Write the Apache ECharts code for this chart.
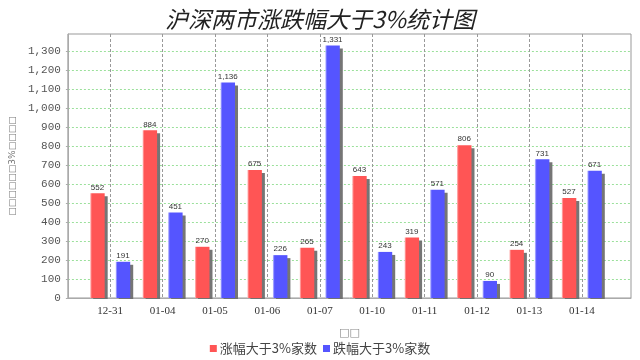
<!DOCTYPE html>
<html><head><meta charset="utf-8">
<script src="https://cdn.jsdelivr.net/npm/echarts@6/dist/echarts.min.js"></script>
<style>html,body{margin:0;padding:0;background:#fff}#c{width:640px;height:360px}</style>
</head><body><div id="c"></div>
<script>
const titleText = '沪深两市涨跌幅大于3%统计图';
const categories = ['12-31','01-04','01-05','01-06','01-07','01-10','01-11','01-12','01-13','01-14'];
const upName = '涨幅大于3%家数';
const downName = '跌幅大于3%家数';
const upValues = [552, 884, 270, 675, 265, 643, 319, 806, 254, 527];
const downValues = [191, 451, 1136, 226, 1331, 243, 571, 90, 731, 671];
const yMin = 0, yMax = 1392, yStep = 100;
const yAxisTitle = '□□□□□□3%□□□□';
const xAxisTitle = '□□';

const RED = '#ff5555', BLUE = '#5555ff';
function grad(light, base) {
  return new echarts.graphic.LinearGradient(0, 0, 1, 0, [
    {offset: 0, color: light}, {offset: 0.12, color: base}, {offset: 1, color: base}
  ]);
}
const fmt = v => Number(v).toLocaleString('en-US');

const chart = echarts.init(document.getElementById('c'), null, {renderer: 'canvas'});
const outer = {left: 62, right: 9, top: 34, bottom: 62};
const inner = {left: 84, right: 32, top: 34, bottom: 62};

function barSeries(name, values, color, light) {
  return {
    name: name, type: 'bar', xAxisIndex: 1, yAxisIndex: 1,
    data: values, barWidth: 14.5, barGap: '76%',
    itemStyle: {color: grad(light, color), shadowColor: 'rgba(110,110,110,0.95)', shadowOffsetX: 3, shadowOffsetY: 3, shadowBlur: 0},
    label: {show: true, position: 'top', distance: 2, fontSize: 8, color: '#333', fontFamily: 'Liberation Sans', formatter: p => fmt(p.value)},
    emphasis: {disabled: true}
  };
}

chart.setOption({
  animation: false,
  backgroundColor: '#fff',
  title: {text: titleText, left: 'center', top: 3,
    textStyle: {fontSize: 23, fontStyle: 'italic', fontWeight: 'normal', color: '#222', fontFamily: 'Noto Sans CJK SC'}},
  legend: {top: 337, left: 'center', itemWidth: 7, itemHeight: 7, itemGap: 6, icon: 'rect',
    textStyle: {fontSize: 13, color: '#444', fontFamily: 'Noto Sans CJK SC', padding: [0, 0, 0, -2]},
    data: [{name: upName, itemStyle: {color: RED}}, {name: downName, itemStyle: {color: BLUE}}]},
  grid: [
    Object.assign({show: true, borderColor: '#999', borderWidth: 1, backgroundColor: '#fff'}, outer),
    Object.assign({show: false}, inner)
  ],
  graphic: [{type: 'rect', left: 63, top: 299, shape: {width: 568, height: 2}, style: {fill: '#fff'}, z: 100, silent: true}],
  xAxis: [
    {type: 'value', gridIndex: 0, min: 0, max: 1, offset: 3,
      name: xAxisTitle, nameLocation: 'middle', nameGap: 27,
      nameTextStyle: {fontSize: 11, color: '#888', fontFamily: 'DejaVu Sans'},
      axisLine: {show: true, lineStyle: {color: '#aaa'}}, axisTick: {show: false}, axisLabel: {show: false}, splitLine: {show: false}},
    {type: 'category', gridIndex: 1, data: categories, offset: 3,
      axisLine: {show: false},
      axisTick: {show: true, alignWithLabel: true, length: 2, lineStyle: {color: '#aaa'}},
      axisLabel: {fontSize: 11, color: '#333', fontFamily: 'Liberation Serif', margin: 5, interval: 0},
      splitLine: {show: true, alignWithLabel: true, interval: 0, lineStyle: {color: '#999', type: [3, 2], width: 1}}}
  ],
  yAxis: [
    {type: 'value', gridIndex: 0, min: yMin, max: yMax, interval: yStep, offset: 3,
      name: yAxisTitle, nameLocation: 'middle', nameGap: 46, nameRotate: 90,
      nameTextStyle: {fontSize: 9, color: '#777', fontFamily: 'DejaVu Sans'},
      axisLine: {show: true, lineStyle: {color: '#aaa'}},
      axisTick: {show: true, length: 2, lineStyle: {color: '#aaa'}},
      axisLabel: {fontSize: 11, color: '#555', fontFamily: 'Liberation Mono', margin: 4, showMaxLabel: false, formatter: v => fmt(v)},
      splitLine: {show: true, showMinLine: false, showMaxLine: false, lineStyle: {color: '#9be09b', type: [2, 2], width: 1}}},
    {type: 'value', gridIndex: 1, min: yMin, max: yMax, interval: yStep, show: false, splitLine: {show: false}}
  ],
  series: [
    barSeries(upName, upValues, RED, '#ffc4c4'),
    barSeries(downName, downValues, BLUE, '#c4c4ff')
  ]
});
</script></body></html>
